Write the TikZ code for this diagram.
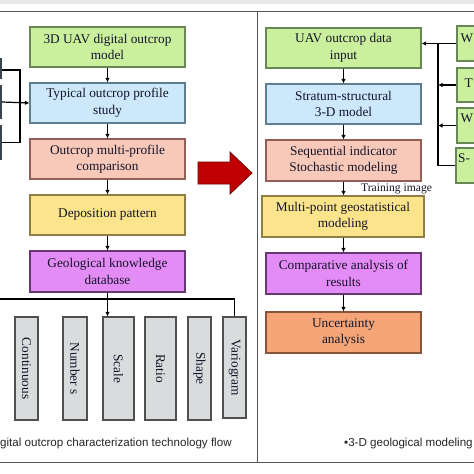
\documentclass[tikz,border=0pt]{standalone}
\usepackage{fontspec}
\setmainfont{Liberation Serif}
\setsansfont{Liberation Sans}
\usetikzlibrary{arrows.meta}
\definecolor{gfill}{RGB}{202,240,158}\definecolor{gdraw}{RGB}{105,135,85}
\definecolor{bfill}{RGB}{204,232,250}\definecolor{bdraw}{RGB}{95,125,145}
\definecolor{sfill}{RGB}{248,200,185}\definecolor{sdraw}{RGB}{145,95,85}
\definecolor{yfill}{RGB}{252,228,140}\definecolor{ydraw}{RGB}{145,125,70}
\definecolor{pfill}{RGB}{228,140,245}\definecolor{pdraw}{RGB}{105,55,115}
\definecolor{ofill}{RGB}{245,165,120}\definecolor{odraw}{RGB}{135,85,60}
\definecolor{grfill}{RGB}{217,220,220}\definecolor{grdraw}{RGB}{80,80,80}
\definecolor{redfill}{RGB}{192,0,0}\definecolor{reddraw}{RGB}{115,0,0}
\definecolor{txt}{RGB}{20,20,40}
\definecolor{framec}{RGB}{85,85,85}
\definecolor{band}{RGB}{232,232,232}
\definecolor{strip}{RGB}{58,68,78}
\tikzset{
  box/.style={draw, line width=1.1pt, rectangle, align=center, inner sep=1pt,
    minimum width=155pt, minimum height=40pt, text=txt,
    font=\fontsize{13.3}{16.5}\selectfont},
  gbox/.style={box, fill=gfill, draw=gdraw},
  bbox/.style={box, fill=bfill, draw=bdraw},
  sbox/.style={box, fill=sfill, draw=sdraw},
  ybox/.style={box, fill=yfill, draw=ydraw},
  pbox/.style={box, fill=pfill, draw=pdraw},
  obox/.style={box, fill=ofill, draw=odraw},
  graybox/.style={draw=grdraw, fill=grfill, line width=1.1pt, rotate=-90,
    minimum height=23pt, minimum width=103pt, inner sep=0pt, text=txt,
    font=\fontsize{13.3}{16}\selectfont},
  sidebox/.style={draw=gdraw, fill=gfill, line width=1.1pt, minimum width=70pt,
    minimum height=35pt, inner sep=0pt},
  sidetext/.style={anchor=west, inner sep=0pt, text=txt, font=\fontsize{13.3}{16}\selectfont},
  conn/.style={line width=1.2pt, black},
  arr/.style={conn, -{Latex[length=4.5pt,width=4.5pt]}},
  captext/.style={font=\sffamily\fontsize{11.6}{13}\selectfont, text=black!85, inner sep=0pt},
}
\begin{document}
\begin{tikzpicture}[x=1pt,y=-1pt]
\useasboundingbox (0,0) rectangle (474,474);
\clip (0,0) rectangle (474,474);
\fill[white] (0,0) rectangle (474,474);
\fill[band] (0,0) rectangle (474,4);
% frame
\draw[framec, line width=1pt] (0,11) -- (474,11);
\draw[framec, line width=1pt] (0,462) -- (474,462);
\draw[framec, line width=1pt] (257,11) -- (257,462);

% left column
\node[gbox] (b1) at (107.5,47) {3D UAV digital outcrop\\model};
\node[bbox] (b2) at (107.5,103) {Typical outcrop profile\\study};
\node[sbox] (b3) at (107.5,159) {Outcrop multi-profile\\comparison};
\node[ybox] (b4) at (107.5,215) {Deposition pattern};
\node[pbox, minimum height=41pt] (b5) at (107.5,271.5) {Geological knowledge\\database};
\draw[arr] (b1.south) -- (b2.north);
\draw[arr] (b2.south) -- (b3.north);
\draw[arr] (b3.south) -- (b4.north);
\draw[arr] (b4.south) -- (b5.north);

% cut-off boxes at the left edge
\node[fill=strip, minimum width=24pt, minimum height=21pt, inner sep=0pt] (lb1) at (-10,68.5) {};
\node[fill=strip, minimum width=24pt, minimum height=34pt, inner sep=0pt] (lb2) at (-10,102) {};
\node[fill=strip, minimum width=24pt, minimum height=35pt, inner sep=0pt] (lb3) at (-10,142.5) {};
\coordinate (jl) at (20,102);
\draw[conn] (lb1.east |- 0,70) -| (jl);
\draw[conn] (lb3.east) -| (jl);
\draw[arr] (lb2.east) -- (b2.west);

% gray attribute boxes
\node[graybox] (g1) at (26.5,368.5) {Continuous};
\node[graybox, minimum height=24pt] (g2) at (75,368.5) {Number s};
\node[graybox, minimum height=31pt] (g3) at (118.5,368.5) {Scale};
\node[graybox, minimum height=31pt] (g4) at (160.5,368.5) {Ratio};
\node[graybox] (g5) at (199.5,368.5) {Shape};
\node[graybox, minimum width=101pt] (g6) at (234.5,367.5) {Variogram};
\coordinate (hl) at (0,299);
\draw[conn] (hl) -| (g6.west);
\draw[arr] (b5.south) -- (b5.south |- g3.west);

\node[captext, anchor=west] (capl) at (0,443) {gital outcrop characterization technology flow};

% red arrow
\draw[fill=redfill, draw=reddraw, line width=0.8pt]
  (198,162) -- (230,162) -- (230,152) -- (252,173) -- (230,194) -- (230,184) -- (198,184) -- cycle;

% right column
\node[gbox] (r1) at (343.5,48) {UAV outcrop data\\input};
\node[bbox] (r2) at (343.5,104) {Stratum-structural\\3-D model};
\node[sbox, minimum height=41pt] (r3) at (343.5,160.5) {Sequential indicator\\Stochastic modeling};
\node[ybox, minimum width=162pt, minimum height=41pt] (r4) at (343,216.5) {Multi-point geostatistical\\modeling};
\node[pbox, minimum height=41pt] (r5) at (343.5,273.5) {Comparative analysis of\\results};
\node[obox, minimum height=41pt] (r6) at (343.5,332.5) {Uncertainty\\analysis};
\draw[arr] (r1.south) -- (r2.north);
\draw[arr] (r2.south) -- (r3.north);
\draw[arr] (r3.south) -- (r3.south |- r4.north);
\draw[arr] (r4.south -| r5.north) -- (r5.north);
\draw[arr] (r5.south) -- (r6.north);
\node[anchor=west, inner sep=0pt, text=txt, font=\fontsize{11.6}{13}\selectfont] (ti) at (361,189) {Training image};

% side inputs (cut off at the right edge)
\node[sidebox] (c1) at (492,43.5) {};
\node[sidebox, minimum height=34pt] (c2) at (492,85) {};
\node[sidebox] (c3) at (492,125.5) {};
\node[sidebox, minimum width=72pt] (c4) at (492,165.5) {};
\node[sidetext] (t1) at (460.5,38) {W};
\node[sidetext] (t2) at (464.5,83) {T};
\node[sidetext] (t3) at (460.5,118) {W};
\node[sidetext] (t4) at (458,158) {S-};
\coordinate (jr) at (438,43.5);
\draw[arr] (c1.west) -- (c1.west -| r1.east);
\draw[arr] (c2.west) -- (c2.west -| jr);
\draw[arr] (c3.west) -- (c3.west -| jr);
\draw[conn] (c4.west) -| (jr);

\node[captext, anchor=west] (capr) at (344,443) {\textbullet3-D geological modeling};
\end{tikzpicture}
\end{document}
